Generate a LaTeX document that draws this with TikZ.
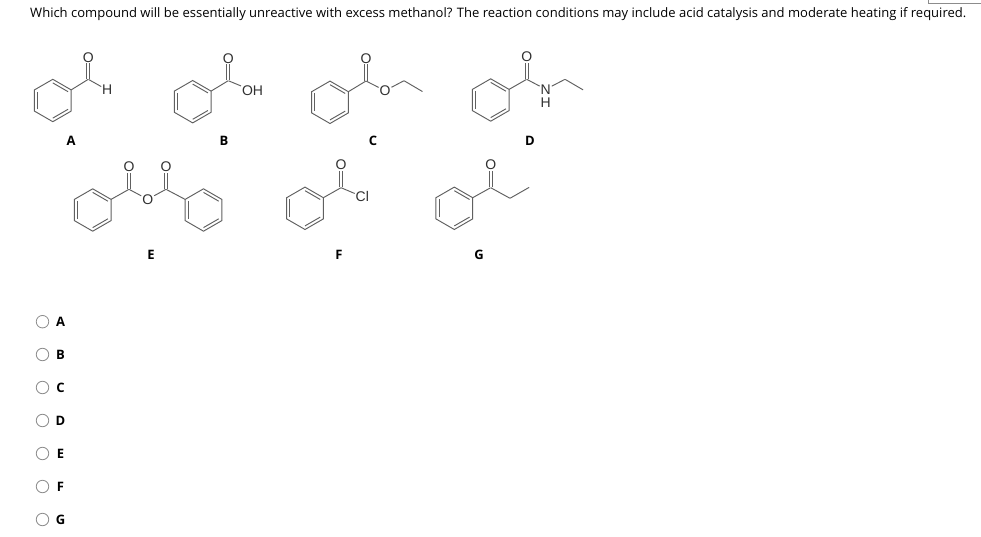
\documentclass[tikz,border=0pt]{standalone}
\usepackage{fontspec}
\setmainfont{Open Sans}
\newfontfamily\atomfont{Liberation Sans}
\definecolor{bondgray}{HTML}{606060}
\definecolor{atomgray}{HTML}{303030}
\definecolor{radiogray}{HTML}{8C8C8C}
\tikzset{
  bond/.style={draw=bondgray, line width=0.95pt},
  atom/.style={inner sep=0.8pt, text=atomgray, font=\atomfont\fontsize{14}{14}\selectfont},
  carbon/.style={inner sep=0pt, minimum size=0pt},
  tag/.style={inner sep=0pt, font=\bfseries\fontsize{13}{14}\selectfont},
  radio/.style={circle, draw=radiogray, line width=0.8pt, minimum size=12.5pt, inner sep=0pt},
  question/.style={inner sep=0pt, anchor=west, font=\fontsize{13.02}{16}\selectfont},
}
% ring: name, centre; name+b is the corner that carries the substituent
\newcommand{\ring}[2]{
  \foreach \corner/\ang in {a/-90,b/-30,c/30,d/90,e/150,f/210} {
    \coordinate (#1\corner) at ([shift={(\ang:21.2)}]#2);
    \coordinate (#1i\corner) at ([shift={(\ang:17.6)}]#2);
  }
  \draw [bond] (#1a) -- (#1b) -- (#1c) -- (#1d) -- (#1e) -- (#1f) -- cycle;
  \draw [bond] (#1ia) -- (#1ib);
  \draw [bond] (#1ic) -- (#1id);
  \draw [bond] (#1ie) -- (#1if);
}
\newcommand{\dbond}[2]{
  \draw [bond, transform canvas={xshift=-1.6pt}] (#1) -- (#2);
  \draw [bond, transform canvas={xshift=1.6pt}] (#1) -- (#2);
}
\begin{document}
\begin{tikzpicture}[x=1pt, y=-1pt]
\useasboundingbox (0,0) rectangle (981,537);
\node [question] (ask) at (30,14.2) {Which compound will be essentially unreactive with excess methanol? The reaction conditions may include acid catalysis and moderate heating if required.};
\coordinate (tabL) at (928,0);
\coordinate (tabC) at (928,3);
\coordinate (tabR) at (981,3);
\draw [radiogray, line width=0.6pt] (tabL) -- (tabC) -- (tabR);

% A
\ring{rA}{52.8,100.5}
\node [carbon] (cA) at (88.3,79.3) {};
\node [atom] (oA) at (88.3,57.3) {O};
\node [atom] (hA) at (107.3,90) {H};
\draw [bond] (rAb) -- (cA);
\dbond{cA}{oA}
\draw [bond] (cA) -- (hA);
\node [tag] (labA) at (71,141) {A};

% B
\ring{rB}{192.7,101.7}
\node [carbon] (cB) at (228.3,80.7) {};
\node [atom] (oB) at (228.3,58.3) {O};
\node [atom] (ohB) at (252.5,90.7) {OH};
\draw [bond] (rBb) -- (cB);
\dbond{cB}{oB}
\draw [bond] (cB) -- (ohB);
\node [tag] (labB) at (224,141) {B};

% C
\ring{rC}{330,102.3}
\node [carbon] (cC) at (366,81) {};
\node [atom] (oC) at (366,58.3) {O};
\node [atom] (eC) at (385,90.7) {O};
\node [carbon] (chC) at (404,80.7) {};
\node [carbon] (meC) at (422.7,91.7) {};
\draw [bond] (rCb) -- (cC);
\dbond{cC}{oC}
\draw [bond] (cC) -- (eC);
\draw [bond] (eC) -- (chC);
\draw [bond] (chC) -- (meC);
\node [tag] (labC) at (373,141) {C};

% D
\ring{rD}{490.7,100}
\node [carbon] (cD) at (526.7,79.3) {};
\node [atom] (oD) at (526.7,56.7) {O};
\node [atom] (nD) at (545.7,89.3) {N};
\node [atom] (hD) at (545.7,103) {H};
\node [carbon] (chD) at (565,79.3) {};
\node [carbon] (meD) at (583.3,90) {};
\draw [bond] (rDb) -- (cD);
\dbond{cD}{oD}
\draw [bond] (cD) -- (nD);
\draw [bond] (nD) -- (chD);
\draw [bond] (chD) -- (meD);
\node [tag] (labD) at (530,141) {D};

% E
\ring{rE}{92.7,210}
\ring{rEE}{203.5,210}
\node [carbon] (cE) at (129,189.3) {};
\node [atom] (oE) at (129,166.7) {O};
\node [atom] (xE) at (147.7,199.3) {O};
\node [carbon] (ccE) at (166,189.3) {};
\node [atom] (ooE) at (166,166.7) {O};
\draw [bond] (rEb) -- (cE);
\dbond{cE}{oE}
\draw [bond] (cE) -- (xE);
\draw [bond] (xE) -- (ccE);
\dbond{ccE}{ooE}
\draw [bond] (ccE) -- (rEEf);
\node [tag] (labE) at (151,255) {E};

% F
\ring{rF}{305,208.3}
\node [carbon] (cF) at (341,187.7) {};
\node [atom] (oF) at (341,165) {O};
\node [atom] (clF) at (362.3,196.7) {Cl};
\draw [bond] (rFb) -- (cF);
\dbond{cF}{oF}
\draw [bond] (cF) -- (clF);
\node [tag] (labF) at (339,255) {F};

% G
\ring{rG}{454.3,208.3}
\node [carbon] (cG) at (490.7,187.7) {};
\node [atom] (oG) at (490.7,165) {O};
\node [carbon] (chG) at (510,198.3) {};
\node [carbon] (meG) at (529.3,187.3) {};
\draw [bond] (rGb) -- (cG);
\dbond{cG}{oG}
\draw [bond] (cG) -- (chG);
\draw [bond] (chG) -- (meG);
\node [tag] (labG) at (479,255) {G};

% answers
\foreach \letter/\ypos in {A/321.7,B/354.5,C/387.5,D/420.5,E/453.5,F/486.5,G/519.5} {
  \node [radio] (radio\letter) at (42.5,\ypos) {};
  \node [tag, right of=radio\letter, node distance=18pt] (pick\letter) {\letter};
}
\end{tikzpicture}
\end{document}
